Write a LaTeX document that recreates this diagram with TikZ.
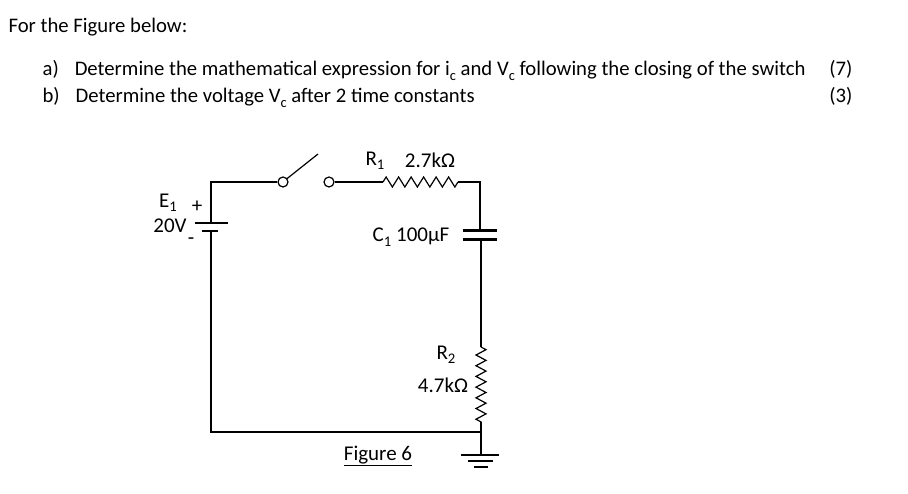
\documentclass[tikz,border=0pt]{standalone}
\usepackage{fontspec}
\setmainfont{Carlito}
\usetikzlibrary{decorations.pathmorphing}
\newcommand{\lowsub}[1]{\raisebox{-0.45ex}{\fontsize{0.7em}{1em}\selectfont #1}}
\begin{document}
\begin{tikzpicture}[x=1pt,y=-1pt,line width=1.2pt,
 txt/.style={font=\fontsize{20.7}{22}\selectfont,anchor=base west,inner sep=0},
 lbl/.style={font=\fontsize{21}{22}\selectfont,inner sep=0},
 zig/.style={decorate,decoration={zigzag,segment length=12.5pt,amplitude=5pt}},
 zigb/.style={decorate,decoration={zigzag,segment length=10.7pt,amplitude=5pt}},
 sw/.style={circle,draw,line width=1.2pt,minimum size=10pt,inner sep=0,fill=white}]
\useasboundingbox (0,0) rectangle (908,494);
\node[txt] (t0) at (8,33) {For the Figure below:};
\node[txt] (ta) at (42,76) {a)\hspace{16pt}Determine the mathematical expression for i\lowsub{c} and V\lowsub{c} following the closing of the switch};
\node[txt] (tb) at (42,103) {b)\hspace{16pt}Determine the voltage V\lowsub{c} after 2 time constants};
\node[txt,anchor=base east] (t7) at (853,76) {(7)};
\node[txt,anchor=base east] (t3) at (853,103) {(3)};
% nodes
\coordinate (tl) at (211,182);
\coordinate (bl) at (211,432);
\node[sw] (s1) at (283,182) {};
\node[sw] (s2) at (329,182) {};
\coordinate (sa) at (318,154);
\coordinate (r1a) at (383,182);
\coordinate (r1b) at (458,182);
\coordinate (tr) at (480,182);
\coordinate (c1) at (480,231);
\coordinate (c2) at (481,240);
\coordinate (r2a) at (481,347);
\coordinate (r2b) at (481,422);
\coordinate (br) at (481,432);
\coordinate (g) at (481,455);
\coordinate (b1) at (211,223);
\coordinate (b2) at (211,231);
% wires
\draw (b1) -- (tl) -- (s1);
\draw (s1) ++(40:5pt) -- (sa);
\draw (s2) -- (r1a);
\draw[zig] (r1a) -- (r1b);
\draw (r1b) -- (tr) -- (c1);
\draw[line width=3pt] (463,231) -- (497,231);
\draw[line width=3pt] (463,240) -- (497,240);
\draw (c2) -- (r2a);
\draw[zigb] (r2a) -- (r2b);
\draw (r2b) -- (g);
\draw (b2) -- (bl) -- (br);
\draw (195,223) -- (228,223);
\draw (202,231) -- (218,231);
\draw (461,455) -- (499,455);
\draw (468,461) -- (493,461);
\draw (474,467) -- (488,467);
% labels
\node[lbl] (lr1) at (375,161) {R\lowsub{1}};
\node[lbl] (lr1v) at (430,160) {2.7kΩ};
\node[lbl] (lc1) at (411,237) {C\lowsub{1} 100µF};
\node[lbl] (lr2) at (446,355) {R\lowsub{2}};
\node[lbl] (lr2v) at (443,385) {4.7kΩ};
\node[lbl] (le1) at (168,203) {E\lowsub{1}};
\node[lbl] (lp) at (197,207) {+};
\node[lbl] (lv) at (170,226) {20V};
\node[lbl] (lm) at (191,241) {-};
\node[lbl] (fig) at (378,456) {\underline{Figure 6}};
\end{tikzpicture}
\end{document}
